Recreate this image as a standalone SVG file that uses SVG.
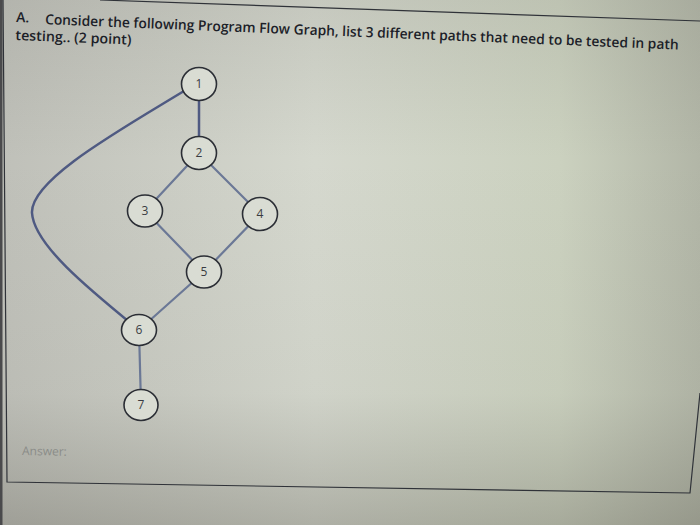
<svg xmlns="http://www.w3.org/2000/svg" width="700" height="525" viewBox="0 0 700 525">
  <defs>
    <linearGradient id="bgH" x1="0" y1="0" x2="1" y2="0">
      <stop offset="0" stop-color="#bfc0b9"/>
      <stop offset="0.45" stop-color="#d5d8ce"/>
      <stop offset="0.8" stop-color="#cbd1bf"/>
      <stop offset="1" stop-color="#b2b6a7"/>
    </linearGradient>
    <linearGradient id="bgV" x1="0" y1="0" x2="0" y2="1">
      <stop offset="0" stop-color="#6a6a62" stop-opacity="0.14"/>
      <stop offset="0.3" stop-color="#6a6a62" stop-opacity="0"/>
      <stop offset="0.75" stop-color="#6a6a62" stop-opacity="0.05"/>
      <stop offset="1" stop-color="#5a584e" stop-opacity="0.32"/>
    </linearGradient>
    <style>
      .edge { fill: none; stroke: #6b7896; stroke-width: 2.2; stroke-linecap: round; }
      .edge.dark { stroke: #4f5a82; stroke-width: 2.5; }
      .node ellipse { fill: #d9dcd3; stroke: #2b2e35; stroke-width: 1.6; }
      .node text { font-family: "Open Sans", "Liberation Sans", sans-serif; font-size: 12px; fill: #3a3c42; text-anchor: middle; }
      .title { font-family: "Open Sans", "Liberation Sans", sans-serif; font-size: 14px; font-weight: 600; fill: #1c1e28; }
      .answer { font-family: "Open Sans", "Liberation Sans", sans-serif; font-size: 12px; fill: #8a8c88; }
      .frame { fill: none; stroke: #2f3238; stroke-width: 1.2; }
    </style>
  </defs>

  <rect x="0" y="0" width="700" height="525" fill="url(#bgH)"/>
  <rect x="0" y="0" width="700" height="525" fill="url(#bgV)"/>
  <rect x="0" y="0" width="2.5" height="525" fill="#4a4a4c"/>

  <!-- frame lines -->
  <path class="frame" d="M100,0 L700,21"/>
  <path class="frame" d="M3,0 L7,482 L690,493 L700,393"/>

  <!-- title -->
  <g transform="rotate(2.3 16 22)">
    <text class="title" x="16" y="22">A.</text>
    <text class="title" x="45" y="23" textLength="634" lengthAdjust="spacingAndGlyphs">Consider the following Program Flow Graph, list 3 different paths that need to be tested in path</text>
    <text class="title" x="16" y="40" textLength="116" lengthAdjust="spacingAndGlyphs">testing.. (2 point)</text>
  </g>

  <!-- connectors -->
  <g id="connectors">
    <path class="edge dark" d="M199,83 L199,153"/>
    <path class="edge dark" d="M184,91 C120,130 30,180 32,213 C34,245 90,290 139,330"/>
    <path class="edge" d="M199,153 L145,211"/>
    <path class="edge" d="M199,153 L260,214"/>
    <path class="edge" d="M145,211 L204,272"/>
    <path class="edge" d="M260,214 L204,272"/>
    <path class="edge" d="M204,272 L139,330"/>
    <path class="edge" d="M139,330 L141,405"/>
  </g>

  <!-- nodes -->
  <g id="node1" class="node"><ellipse cx="199" cy="84" rx="17.5" ry="16.5"/><text x="199" y="88">1</text></g>
  <g id="node2" class="node"><ellipse cx="199" cy="153" rx="17.5" ry="16.5"/><text x="199" y="157">2</text></g>
  <g id="node3" class="node"><ellipse cx="145" cy="211" rx="17.5" ry="16"/><text x="145" y="215">3</text></g>
  <g id="node4" class="node"><ellipse cx="260" cy="214" rx="17.5" ry="16.5"/><text x="260" y="218">4</text></g>
  <g id="node5" class="node"><ellipse cx="204" cy="272" rx="17.5" ry="16"/><text x="204" y="276">5</text></g>
  <g id="node6" class="node"><ellipse cx="139" cy="330" rx="17.5" ry="15.5"/><text x="139" y="334">6</text></g>
  <g id="node7" class="node"><ellipse cx="141" cy="405" rx="17" ry="15.5"/><text x="141" y="409">7</text></g>

  <!-- answer -->
  <text class="answer" x="22" y="455" transform="rotate(1 22 455)">Answer:</text>
</svg>
